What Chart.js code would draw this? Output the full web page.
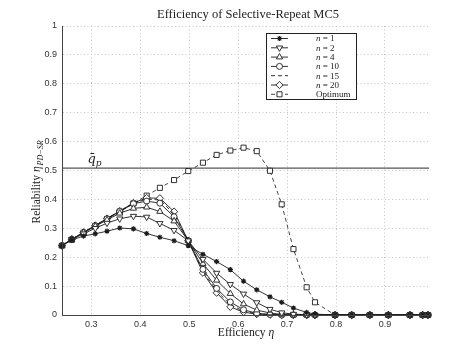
<!DOCTYPE html>
<html><head><meta charset="utf-8">
<script src="https://cdn.jsdelivr.net/npm/chart.js@4.4.1/dist/chart.umd.min.js"></script>
<style>html,body{margin:0;padding:0;background:#fff;}canvas{display:block;}</style>
</head><body>
<canvas id="c" width="474" height="355"></canvas>
<script>
// ---- data ----
const chartTitle = 'Efficiency of Selective-Repeat MC5';
const xLabelText = 'Efficiency ';
const xLabelSym = 'η';
const yLabelText = 'Reliability ';
const yLabelSym = 'η';
const yLabelSub = 'PD−SR';
const efficiency = [0.24, 0.26, 0.284, 0.308, 0.332, 0.358, 0.386, 0.413, 0.44, 0.469, 0.498,
  0.528, 0.556, 0.584, 0.611, 0.638, 0.665, 0.689, 0.713, 0.74, 0.757, 0.798, 0.832, 0.869, 0.907, 0.951, 0.977, 0.988];
const relN1 = [0.24, 0.26, 0.273, 0.281, 0.29, 0.301, 0.298, 0.282, 0.269, 0.257, 0.24,
  0.21, 0.185, 0.157, 0.117, 0.087, 0.063, 0.044, 0.024, 0.009, 0.003, 0, 0, 0, 0, 0, 0, 0];
const relN2 = [0.24, 0.262, 0.281, 0.3, 0.318, 0.333, 0.342, 0.339, 0.317, 0.293, 0.257,
  0.193, 0.145, 0.106, 0.073, 0.043, 0.02, 0.008, 0.003, 0.001, 0, 0, 0, 0, 0, 0, 0, 0];
const relN4 = [0.24, 0.262, 0.285, 0.307, 0.329, 0.352, 0.369, 0.373, 0.358, 0.325, 0.257,
  0.178, 0.12, 0.074, 0.038, 0.017, 0.007, 0.002, 0, 0, 0, 0, 0, 0, 0, 0, 0, 0];
const relN10 = [0.24, 0.262, 0.286, 0.309, 0.333, 0.358, 0.385, 0.394, 0.387, 0.34, 0.257,
  0.158, 0.092, 0.045, 0.018, 0.006, 0.002, 0, 0, 0, 0, 0, 0, 0, 0, 0, 0, 0];
const relN15 = [0.24, 0.262, 0.286, 0.31, 0.334, 0.359, 0.387, 0.401, 0.398, 0.35, 0.257,
  0.152, 0.083, 0.036, 0.013, 0.004, 0.001, 0, 0, 0, 0, 0, 0, 0, 0, 0, 0, 0];
const relN20 = [0.24, 0.262, 0.286, 0.31, 0.334, 0.36, 0.388, 0.405, 0.404, 0.358, 0.257,
  0.146, 0.077, 0.028, 0.01, 0.003, 0.001, 0, 0, 0, 0, 0, 0, 0, 0, 0, 0, 0];
const relOptimum = [0.24, 0.26, 0.284, 0.308, 0.332, 0.358, 0.386, 0.413, 0.44, 0.467, 0.498,
  0.527, 0.554, 0.569, 0.579, 0.567, 0.499, 0.383, 0.228, 0.096, 0.044, 0, 0, 0, 0, 0, 0, 0];
const seriesNames = ['n = 1', 'n = 2', 'n = 4', 'n = 10', 'n = 15', 'n = 20', 'Optimum'];
const qBar = 0.508;
const qBarLabelX = 0.292;
const xRange = [0.24, 0.99];
const yRange = [0, 1];
const xTickValues = [0.3, 0.4, 0.5, 0.6, 0.7, 0.8, 0.9];
const yTickValues = [0, 0.1, 0.2, 0.3, 0.4, 0.5, 0.6, 0.7, 0.8, 0.9, 1];

// ---- chart ----
const INK = '#1c1c1c';
const SERIF = '"Liberation Serif", "DejaVu Serif", serif';
const SANS = '"Liberation Sans", Arial, sans-serif';
function pts(ys) { return efficiency.map((x, i) => ({ x: x, y: ys[i] })); }
const base = { showLine: true, borderColor: INK, borderWidth: 0.9, pointBorderColor: INK,
  pointBackgroundColor: '#fff', pointBorderWidth: 0.9, clip: false, tension: 0 };
const datasets = [
  Object.assign({}, base, { label: seriesNames[0], data: pts(relN1), pointStyle: 'star', pointRadius: 2.6, pointBorderWidth: 1.2 }),
  Object.assign({}, base, { label: seriesNames[1], data: pts(relN2), pointStyle: 'triangle', pointRotation: 180, pointRadius: 3.6 }),
  Object.assign({}, base, { label: seriesNames[2], data: pts(relN4), pointStyle: 'triangle', pointRadius: 3.6 }),
  Object.assign({}, base, { label: seriesNames[3], data: pts(relN10), pointStyle: 'circle', pointRadius: 3 }),
  Object.assign({}, base, { label: seriesNames[4], data: pts(relN15), pointRadius: 0, borderDash: [4, 3] }),
  Object.assign({}, base, { label: seriesNames[5], data: pts(relN20), pointStyle: 'rectRot', pointRadius: 3.6 }),
  Object.assign({}, base, { label: seriesNames[6], data: pts(relOptimum), pointStyle: 'rect', pointRadius: 3.6, borderDash: [4, 3], borderColor: '#333' }),
  { label: 'qbar', data: [{ x: xRange[0], y: qBar }, { x: xRange[1], y: qBar }], showLine: true,
    borderColor: '#555', borderWidth: 1.2, pointRadius: 0, clip: false }
];

function drawMarker(ctx, ds, x, y) {
  if (!ds.pointRadius) return;
  ctx.save();
  ctx.strokeStyle = ds.pointBorderColor; ctx.fillStyle = ds.pointBackgroundColor;
  ctx.lineWidth = ds.pointBorderWidth; ctx.setLineDash([]);
  Chart.helpers.drawPoint(ctx, { pointStyle: ds.pointStyle, rotation: ds.pointRotation || 0,
    radius: ds.pointRadius, borderWidth: ds.pointBorderWidth }, x, y);
  ctx.restore();
}

const decor = {
  id: 'decor',
  afterDraw(chart) {
    const ctx = chart.ctx, xs = chart.scales.x, ys = chart.scales.y, ca = chart.chartArea;
    ctx.save();
    ctx.setLineDash([]);
    // solid axis lines (left & bottom)
    ctx.strokeStyle = '#444'; ctx.lineWidth = 1;
    ctx.beginPath();
    ctx.moveTo(Math.round(ca.left) + 0.5, ca.top); ctx.lineTo(Math.round(ca.left) + 0.5, Math.round(ca.bottom) + 0.5);
    ctx.lineTo(ca.right, Math.round(ca.bottom) + 0.5);
    ctx.stroke();
    ctx.fillStyle = '#222';
    // title
    ctx.font = '12.5px ' + SERIF; ctx.textAlign = 'center'; ctx.textBaseline = 'alphabetic';
    ctx.fillText(chartTitle, 248, 18);
    // x label
    ctx.textAlign = 'left';
    ctx.font = '11.5px ' + SERIF; const w1 = ctx.measureText(xLabelText).width;
    ctx.font = 'italic 11.5px ' + SERIF; const w2 = ctx.measureText(xLabelSym).width;
    let sx = 246 - (w1 + w2) / 2;
    ctx.font = '11.5px ' + SERIF; ctx.fillText(xLabelText, sx, 336);
    ctx.font = 'italic 11.5px ' + SERIF; ctx.fillText(xLabelSym, sx + w1, 336);
    // y label
    ctx.save();
    ctx.translate(36, 182); ctx.rotate(-Math.PI / 2);
    ctx.font = '11.5px ' + SERIF; const a = ctx.measureText(yLabelText).width;
    ctx.font = 'italic 11.5px ' + SERIF; const b = ctx.measureText(yLabelSym).width;
    ctx.font = 'italic 8px ' + SERIF; const c = ctx.measureText(yLabelSub).width;
    let sy = -(a + b + c + 1) / 2;
    ctx.font = '11.5px ' + SERIF; ctx.fillText(yLabelText, sy, 4);
    ctx.font = 'italic 11.5px ' + SERIF; ctx.fillText(yLabelSym, sy + a, 4);
    ctx.font = 'italic 8px ' + SERIF; ctx.fillText(yLabelSub, sy + a + b + 1, 7);
    ctx.restore();
    // q-bar label
    const qx = xs.getPixelForValue(qBarLabelX), qy = ys.getPixelForValue(qBar) - 5;
    ctx.font = 'italic 13px "DejaVu Serif", serif';
    ctx.fillText('q\u0304', qx, qy);
    const qw = ctx.measureText('q\u0304').width;
    ctx.font = 'italic 9px "DejaVu Serif", serif';
    ctx.fillText('p', qx + qw, qy + 3);
    // legend
    const L = { x: 266, y: 33, w: 90, h: 66 };
    ctx.fillStyle = '#fff'; ctx.fillRect(L.x, L.y, L.w, L.h);
    ctx.strokeStyle = '#222'; ctx.lineWidth = 1; ctx.setLineDash([]);
    ctx.strokeRect(L.x + 0.5, L.y + 0.5, L.w, L.h);
    for (let i = 0; i < 7; i++) {
      const ds = chart.data.datasets[i];
      const ry = L.y + 5.5 + i * 9.3;
      ctx.save();
      ctx.strokeStyle = ds.borderColor; ctx.lineWidth = ds.borderWidth;
      ctx.setLineDash(ds.borderDash || []);
      ctx.beginPath(); ctx.moveTo(271, ry); ctx.lineTo(288, ry); ctx.stroke();
      ctx.restore();
      drawMarker(ctx, ds, 279.5, ry);
      ctx.fillStyle = '#222'; ctx.textBaseline = 'middle'; ctx.textAlign = 'left';
      const name = seriesNames[i];
      if (name.startsWith('n')) {
        ctx.font = 'italic 9px ' + SERIF; ctx.fillText('n', 316, ry + 0.5);
        const nw = ctx.measureText('n').width;
        ctx.font = '9px ' + SERIF; ctx.fillText(name.slice(1), 316 + nw, ry + 0.5);
      } else {
        ctx.font = '9px ' + SERIF; ctx.fillText(name, 316, ry + 0.5);
      }
    }
    ctx.restore();
  }
};

const gridStyle = { color: '#c4c4c4', lineWidth: 1, drawTicks: false };
const borderStyle = { display: true, color: '#444', width: 1, dash: [1, 2.5] };
new Chart(document.getElementById('c'), {
  type: 'scatter',
  data: { datasets: datasets },
  options: {
    responsive: false, animation: false, devicePixelRatio: 1,
    layout: { padding: { left: 0, right: 45, top: 26, bottom: 0 } },
    plugins: { legend: { display: false }, tooltip: { enabled: false }, title: { display: false } },
    scales: {
      x: {
        type: 'linear', min: xRange[0], max: xRange[1],
        afterBuildTicks: s => { s.ticks = xTickValues.map(v => ({ value: v })); },
        afterFit: s => { s.height = 40; },
        grid: gridStyle,
        border: borderStyle,
        ticks: { padding: 4, color: '#333', font: { family: SANS, size: 9 }, maxRotation: 0,
          callback: v => String(+Number(v).toFixed(1)) }
      },
      y: {
        type: 'linear', min: yRange[0], max: yRange[1],
        afterBuildTicks: s => { s.ticks = yTickValues.map(v => ({ value: v })); },
        afterFit: s => { s.width = 62; },
        grid: gridStyle,
        border: borderStyle,
        ticks: { padding: 5, color: '#333', font: { family: SANS, size: 9 },
          callback: v => String(+Number(v).toFixed(1)) }
      }
    }
  },
  plugins: [decor]
});
</script>
</body></html>
